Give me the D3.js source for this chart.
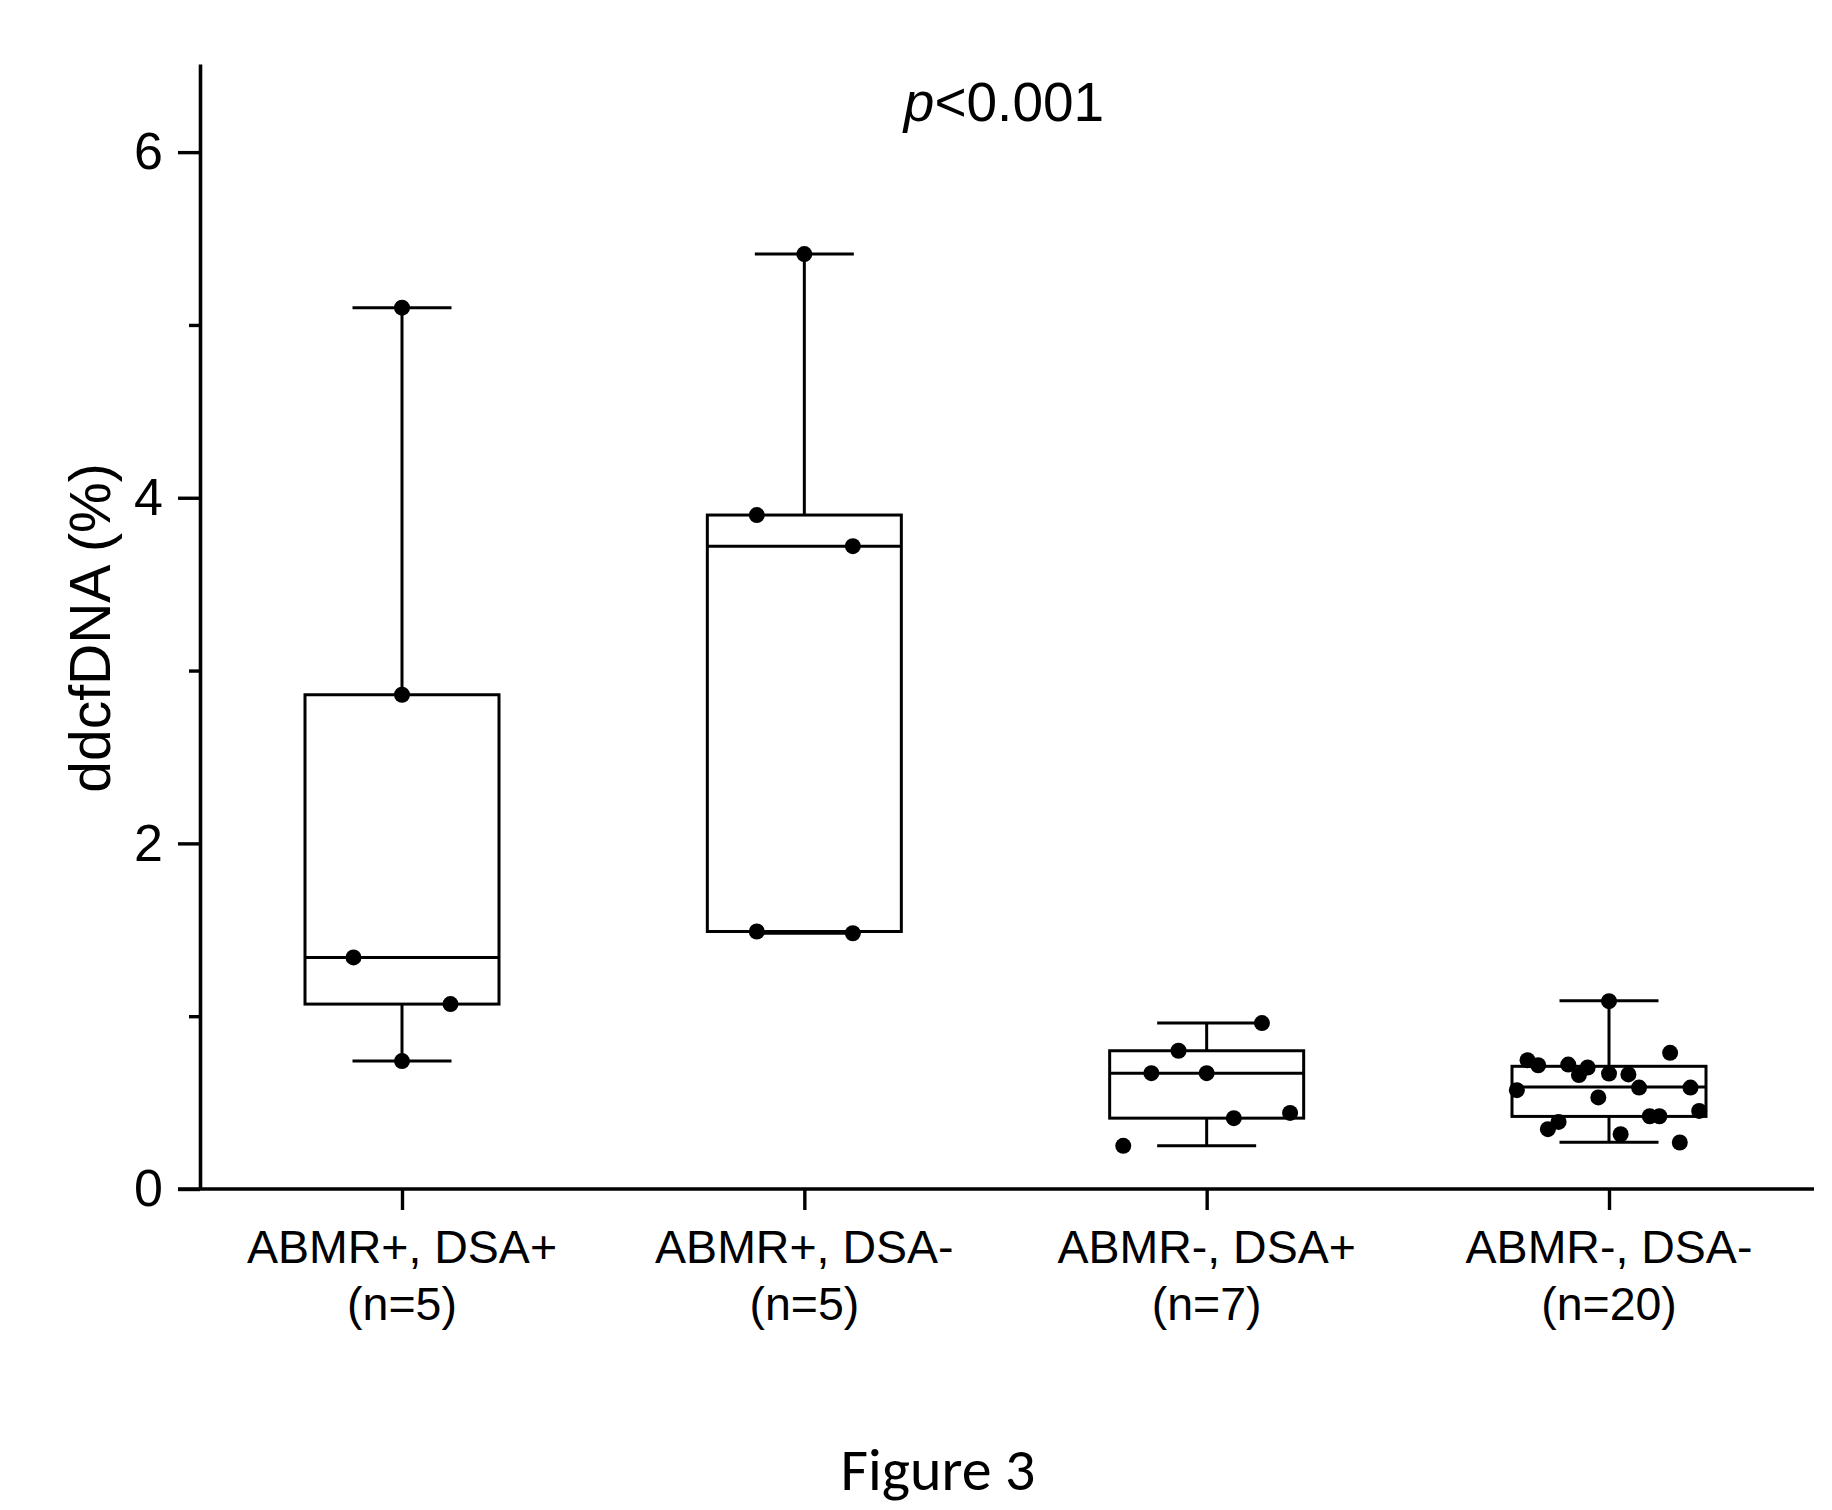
<!DOCTYPE html>
<html>
<head>
<meta charset="utf-8">
<script src="https://cdn.jsdelivr.net/npm/d3@7"></script>
<style>
  body { margin: 0; background: #fff; }
  svg { display: block; }
</style>
</head>
<body>
<div id="chart"></div>
<script>
// groups
var categories = ["ABMR+, DSA+", "ABMR+, DSA-", "ABMR-, DSA+", "ABMR-, DSA-"]
var nLabels = ["(n=5)", "(n=5)", "(n=7)", "(n=20)"]

// box stats
var whiskerLow  = [0.74, 1.48, 0.25, 0.27]
var q1          = [1.07, 1.49, 0.41, 0.42]
var medians     = [1.34, 3.72, 0.67, 0.59]
var q3          = [2.86, 3.90, 0.80, 0.71]
var whiskerHigh = [5.10, 5.41, 0.96, 1.09]

// individual points, jitter in units of half a box width
var points1 = [5.10, 2.86, 1.34, 1.07, 0.74]
var jitter1 = [0, 0, -0.5, 0.5, 0]
var points2 = [5.41, 3.90, 3.72, 1.49, 1.48]
var jitter2 = [0, -0.49, 0.5, -0.49, 0.5]
var points3 = [0.96, 0.80, 0.67, 0.67, 0.41, 0.44, 0.25]
var jitter3 = [0.57, -0.29, -0.57, 0, 0.28, 0.86, -0.86]
var points4 = [0.745, 0.716, 0.720, 0.659, 0.703, 0.668, 0.663, 0.788, 0.572, 0.587,
               0.587, 0.530, 0.452, 0.421, 0.421, 0.388, 0.346, 0.317, 0.269, 1.087]
var jitter4 = [-0.84, -0.73, -0.42, -0.31, -0.22, 0, 0.20, 0.63, -0.95, 0.31,
               0.84, -0.11, 0.93, 0.42, 0.52, -0.52, -0.63, 0.12, 0.73, 0]

var yTicks = [0, 2, 4, 6]
var yMinorTicks = [1, 3, 5]
var pLabel = "<0.001"
var figLabel = "Figure 3"

var allPoints = [points1, points2, points3, points4]
var allJitter = [jitter1, jitter2, jitter3, jitter4]

var W = 1832, H = 1510
var font = "'Liberation Sans', Arial, sans-serif"

var svg = d3.select('#chart').append('svg')
  .attr('width', W)
  .attr('height', H)

var y = d3.scaleLinear().domain([0, 6.51]).range([1189, 64])
var x = d3.scalePoint().domain(categories).range([402, 1609])
var halfBox = 97
var halfCap = 49.5

// y axis major
var yAxis = svg.append('g')
  .attr('transform', 'translate(200,0)')
  .call(d3.axisLeft(y).tickValues(yTicks).tickFormat(d3.format('d'))
    .tickSize(22).tickSizeOuter(0).tickPadding(15))
yAxis.select('.domain').attr('stroke-width', 3.6)
yAxis.selectAll('.tick line').attr('stroke-width', 3.4)
yAxis.selectAll('.tick text')
  .attr('font-family', font)
  .attr('font-size', 52)
  .attr('fill', '#000')

// y axis minor
var yMinor = svg.append('g')
  .attr('transform', 'translate(200,0)')
  .call(d3.axisLeft(y).tickValues(yMinorTicks).tickSize(11).tickSizeOuter(0).tickFormat(''))
yMinor.select('.domain').remove()
yMinor.selectAll('.tick line').attr('stroke-width', 3.4)

// x axis
svg.append('line')
  .attr('x1', 178)
  .attr('y1', y(0))
  .attr('x2', 1814)
  .attr('y2', y(0))
  .attr('stroke', '#000')
  .attr('stroke-width', 3.6)

var xAxis = svg.append('g')
  .attr('transform', 'translate(0,' + y(0) + ')')
  .call(d3.axisBottom(x).tickSize(21).tickSizeOuter(0).tickFormat(''))
xAxis.select('.domain').remove()
xAxis.selectAll('.tick line').attr('stroke-width', 3.4)

// category labels, two lines
categories.forEach(function(c, i) {
  var t = svg.append('text')
    .attr('font-family', font)
    .attr('font-size', 46.5)
    .attr('text-anchor', 'middle')
    .attr('fill', '#000')
  t.append('tspan').attr('x', x(c)).attr('y', 1263).text(c)
  t.append('tspan').attr('x', x(c)).attr('y', 1320).text(nLabels[i])
})

// y label
svg.append('text')
  .attr('transform', 'translate(110,628) rotate(-90)')
  .attr('font-family', font)
  .attr('font-size', 57)
  .attr('text-anchor', 'middle')
  .attr('fill', '#000')
  .text('ddcfDNA (%)')

// boxes
categories.forEach(function(c, i) {
  var cx = x(c)
  var g = svg.append('g')
    .attr('stroke', '#000')
    .attr('stroke-width', 3)
    .attr('fill', 'none')

  // whiskers
  g.append('line')
    .attr('x1', cx).attr('x2', cx)
    .attr('y1', y(q3[i])).attr('y2', y(whiskerHigh[i]))
  g.append('line')
    .attr('x1', cx).attr('x2', cx)
    .attr('y1', y(q1[i])).attr('y2', y(whiskerLow[i]))
  g.append('line')
    .attr('x1', cx - halfCap).attr('x2', cx + halfCap)
    .attr('y1', y(whiskerHigh[i])).attr('y2', y(whiskerHigh[i]))
  g.append('line')
    .attr('x1', cx - halfCap).attr('x2', cx + halfCap)
    .attr('y1', y(whiskerLow[i])).attr('y2', y(whiskerLow[i]))

  // box
  g.append('rect')
    .attr('x', cx - halfBox)
    .attr('y', y(q3[i]))
    .attr('width', halfBox * 2)
    .attr('height', y(q1[i]) - y(q3[i]))
  // median
  g.append('line')
    .attr('x1', cx - halfBox).attr('x2', cx + halfBox)
    .attr('y1', y(medians[i])).attr('y2', y(medians[i]))

  // points
  svg.append('g').selectAll('circle')
    .data(allPoints[i])
    .enter().append('circle')
    .attr('cx', function(d, j) { return cx + allJitter[i][j] * halfBox })
    .attr('cy', function(d) { return y(d) })
    .attr('r', 8)
    .attr('fill', '#000')
})

// p value
var pt = svg.append('text')
  .attr('x', 1004)
  .attr('y', 121)
  .attr('font-family', font)
  .attr('font-size', 55)
  .attr('text-anchor', 'middle')
  .attr('fill', '#000')
pt.append('tspan').attr('font-style', 'italic').text('p')
pt.append('tspan').text(pLabel)

// figure caption
svg.append('text')
  .attr('x', 938)
  .attr('y', 1490)
  .attr('font-family', "Carlito, Calibri, 'Open Sans', sans-serif")
  .attr('font-size', 60)
  .attr('text-anchor', 'middle')
  .attr('fill', '#000')
  .text(figLabel)
</script>
</body>
</html>
